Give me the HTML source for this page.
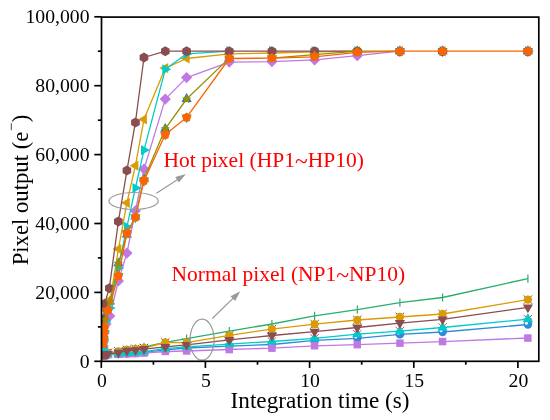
<!DOCTYPE html>
<html><head><meta charset="utf-8"><title>Pixel output vs integration time</title>
<style>
html,body{margin:0;padding:0;background:#fff;}
svg{display:block;font-family:"Liberation Serif","Times New Roman",serif;}
</style></head><body>
<svg width="550" height="420" viewBox="0 0 550 420">
<rect width="550" height="420" fill="#fff"/>
<clipPath id="c"><rect x="101.5" y="17.1" width="437.3" height="344.2"/></clipPath>
<g clip-path="url(#c)">
<polygon points="103.0,341.1 108.1,349.9 97.9,349.9" fill="#1A6FDF"/><polygon points="103.6,333.1 108.7,341.9 98.5,341.9" fill="#1A6FDF"/><polygon points="104.2,323.1 109.3,331.9 99.1,331.9" fill="#1A6FDF"/><polygon points="105.5,313.4 110.6,322.2 100.4,322.2" fill="#1A6FDF"/><polygon points="110.0,295.6 115.1,304.4 104.9,304.4" fill="#1A6FDF"/><polygon points="118.4,257.4 123.5,266.2 113.3,266.2" fill="#1A6FDF"/><polygon points="126.9,228.6 132.0,237.5 121.8,237.5" fill="#1A6FDF"/><polygon points="135.4,210.7 140.5,219.6 130.3,219.6" fill="#1A6FDF"/><polygon points="144.0,172.8 149.1,181.7 138.9,181.7" fill="#1A6FDF"/><polygon points="165.3,122.9 170.4,131.7 160.2,131.7" fill="#1A6FDF"/><polygon points="186.6,93.1 191.7,101.9 181.5,101.9" fill="#1A6FDF"/><polygon points="229.3,52.2 234.4,61.1 224.2,61.1" fill="#1A6FDF"/><polygon points="271.9,52.2 277.0,61.1 266.8,61.1" fill="#1A6FDF"/><polygon points="314.6,48.8 319.7,57.6 309.5,57.6" fill="#1A6FDF"/><polygon points="357.3,45.4 362.4,54.2 352.1,54.2" fill="#1A6FDF"/><polygon points="399.9,45.4 405.0,54.2 394.8,54.2" fill="#1A6FDF"/><polygon points="442.6,45.4 447.7,54.2 437.5,54.2" fill="#1A6FDF"/><polygon points="527.9,45.4 533.0,54.2 522.8,54.2" fill="#1A6FDF"/>
<polygon points="103.0,350.9 108.1,342.1 97.9,342.1" fill="#2BAE6C"/><polygon points="103.6,344.9 108.7,336.1 98.5,336.1" fill="#2BAE6C"/><polygon points="104.1,338.9 109.2,330.1 99.0,330.1" fill="#2BAE6C"/><polygon points="104.5,333.4 109.6,324.6 99.4,324.6" fill="#2BAE6C"/><polygon points="108.0,316.1 113.1,307.2 102.9,307.2" fill="#2BAE6C"/><polygon points="118.4,281.9 123.5,273.1 113.3,273.1" fill="#2BAE6C"/><polygon points="126.9,238.8 132.0,230.0 121.8,230.0" fill="#2BAE6C"/><polygon points="135.4,223.2 140.5,214.3 130.3,214.3" fill="#2BAE6C"/><polygon points="144.0,186.7 149.1,177.8 138.9,177.8" fill="#2BAE6C"/><polygon points="165.3,140.5 170.4,131.7 160.2,131.7" fill="#2BAE6C"/><polygon points="186.6,123.3 191.7,114.4 181.5,114.4" fill="#2BAE6C"/><polygon points="229.3,64.4 234.4,55.5 224.2,55.5" fill="#2BAE6C"/><polygon points="271.9,64.0 277.0,55.2 266.8,55.2" fill="#2BAE6C"/><polygon points="314.6,62.7 319.7,53.8 309.5,53.8" fill="#2BAE6C"/><polygon points="357.3,58.2 362.4,49.3 352.1,49.3" fill="#2BAE6C"/><polygon points="399.9,57.1 405.0,48.3 394.8,48.3" fill="#2BAE6C"/><polygon points="442.6,57.1 447.7,48.3 437.5,48.3" fill="#2BAE6C"/><polygon points="527.9,57.1 533.0,48.3 522.8,48.3" fill="#2BAE6C"/>
<polyline points="103.0,347.0 103.6,340.0 104.2,333.0 106.0,324.0 109.8,316.0 118.4,281.0 126.9,253.1 135.4,210.8 144.0,169.1 165.3,99.1 186.6,77.6 229.3,62.1 271.9,61.6 314.6,59.9 357.3,55.7 399.9,51.2" fill="none" stroke="#C079E2" stroke-width="1.3" stroke-linejoin="round"/>
<polygon points="103.0,341.4 108.6,347.0 103.0,352.6 97.4,347.0" fill="#C079E2"/><polygon points="103.6,334.4 109.2,340.0 103.6,345.6 98.0,340.0" fill="#C079E2"/><polygon points="104.2,327.4 109.8,333.0 104.2,338.6 98.6,333.0" fill="#C079E2"/><polygon points="106.0,318.4 111.6,324.0 106.0,329.6 100.4,324.0" fill="#C079E2"/><polygon points="109.8,310.4 115.4,316.0 109.8,321.6 104.2,316.0" fill="#C079E2"/><polygon points="118.4,275.4 124.0,281.0 118.4,286.6 112.8,281.0" fill="#C079E2"/><polygon points="126.9,247.5 132.5,253.1 126.9,258.7 121.3,253.1" fill="#C079E2"/><polygon points="135.4,205.2 141.0,210.8 135.4,216.4 129.8,210.8" fill="#C079E2"/><polygon points="144.0,163.5 149.6,169.1 144.0,174.7 138.4,169.1" fill="#C079E2"/><polygon points="165.3,93.5 170.9,99.1 165.3,104.7 159.7,99.1" fill="#C079E2"/><polygon points="186.6,72.0 192.2,77.6 186.6,83.2 181.0,77.6" fill="#C079E2"/><polygon points="229.3,56.5 234.9,62.1 229.3,67.7 223.7,62.1" fill="#C079E2"/><polygon points="271.9,56.0 277.5,61.6 271.9,67.2 266.3,61.6" fill="#C079E2"/><polygon points="314.6,54.3 320.2,59.9 314.6,65.5 309.0,59.9" fill="#C079E2"/><polygon points="357.3,50.1 362.9,55.7 357.3,61.3 351.7,55.7" fill="#C079E2"/><polygon points="399.9,45.6 405.5,51.2 399.9,56.9 394.3,51.2" fill="#C079E2"/><polygon points="442.6,45.6 448.2,51.2 442.6,56.9 437.0,51.2" fill="#C079E2"/><polygon points="527.9,45.6 533.5,51.2 527.9,56.9 522.3,51.2" fill="#C079E2"/>
<polyline points="102.6,349.0 103.2,337.0 104.0,323.0 105.5,310.0 110.2,299.5 118.4,249.0 126.9,202.8 135.4,165.7 144.0,119.3 165.3,68.1 186.6,58.5 229.3,53.8 271.9,53.0 314.6,51.9 357.3,51.2" fill="none" stroke="#DA9B04" stroke-width="1.3" stroke-linejoin="round"/>
<polygon points="96.7,349.0 105.5,343.9 105.5,354.1" fill="#DA9B04"/><polygon points="97.3,337.0 106.2,331.9 106.2,342.1" fill="#DA9B04"/><polygon points="98.1,323.0 107.0,317.9 107.0,328.1" fill="#DA9B04"/><polygon points="99.6,310.0 108.5,304.9 108.5,315.1" fill="#DA9B04"/><polygon points="104.3,299.5 113.2,294.4 113.2,304.6" fill="#DA9B04"/><polygon points="112.5,249.0 121.3,243.9 121.3,254.1" fill="#DA9B04"/><polygon points="121.0,202.8 129.8,197.7 129.8,207.9" fill="#DA9B04"/><polygon points="129.5,165.7 138.4,160.6 138.4,170.8" fill="#DA9B04"/><polygon points="138.1,119.3 146.9,114.2 146.9,124.4" fill="#DA9B04"/><polygon points="159.4,68.1 168.2,63.0 168.2,73.2" fill="#DA9B04"/><polygon points="180.7,58.5 189.6,53.4 189.6,63.6" fill="#DA9B04"/><polygon points="223.4,53.8 232.2,48.7 232.2,58.9" fill="#DA9B04"/><polygon points="266.0,53.0 274.9,47.9 274.9,58.1" fill="#DA9B04"/><polygon points="308.7,51.9 317.5,46.8 317.5,57.0" fill="#DA9B04"/><polygon points="351.4,51.2 360.2,46.1 360.2,56.4" fill="#DA9B04"/><polygon points="394.0,51.2 402.9,46.1 402.9,56.4" fill="#DA9B04"/><polygon points="436.7,51.2 445.5,46.1 445.5,56.4" fill="#DA9B04"/><polygon points="522.0,51.2 530.8,46.1 530.8,56.4" fill="#DA9B04"/>
<polyline points="103.0,346.0 103.6,339.0 104.2,331.0 105.6,321.0 109.8,308.0 118.4,267.9 126.9,226.9 135.4,188.0 144.0,150.1 165.3,69.3 186.6,53.8 229.3,51.2" fill="none" stroke="#00CBCC" stroke-width="1.3" stroke-linejoin="round"/>
<polygon points="108.9,346.0 100.0,340.9 100.0,351.1" fill="#00CBCC"/><polygon points="109.5,339.0 100.6,333.9 100.6,344.1" fill="#00CBCC"/><polygon points="110.1,331.0 101.2,325.9 101.2,336.1" fill="#00CBCC"/><polygon points="111.5,321.0 102.6,315.9 102.6,326.1" fill="#00CBCC"/><polygon points="115.7,308.0 106.8,302.9 106.8,313.1" fill="#00CBCC"/><polygon points="124.3,267.9 115.4,262.8 115.4,273.1" fill="#00CBCC"/><polygon points="132.8,226.9 123.9,221.8 123.9,232.1" fill="#00CBCC"/><polygon points="141.3,188.0 132.5,182.9 132.5,193.1" fill="#00CBCC"/><polygon points="149.9,150.1 141.0,145.0 141.0,155.2" fill="#00CBCC"/><polygon points="171.2,69.3 162.3,64.2 162.3,74.4" fill="#00CBCC"/><polygon points="192.5,53.8 183.7,48.7 183.7,58.9" fill="#00CBCC"/><polygon points="235.2,51.2 226.3,46.1 226.3,56.4" fill="#00CBCC"/><polygon points="277.8,51.2 269.0,46.1 269.0,56.4" fill="#00CBCC"/><polygon points="320.5,51.2 311.6,46.1 311.6,56.4" fill="#00CBCC"/><polygon points="363.2,51.2 354.3,46.1 354.3,56.4" fill="#00CBCC"/><polygon points="405.8,51.2 397.0,46.1 397.0,56.4" fill="#00CBCC"/><polygon points="448.5,51.2 439.6,46.1 439.6,56.4" fill="#00CBCC"/><polygon points="533.8,51.2 524.9,46.1 524.9,56.4" fill="#00CBCC"/>
<polyline points="102.4,349.0 102.9,335.0 103.6,319.0 104.6,303.8 109.3,288.3 118.4,221.4 126.9,170.6 135.4,122.4 144.0,57.5 165.3,51.2 186.6,51.2 229.3,51.2 271.9,51.2 314.6,51.2 357.3,51.2" fill="none" stroke="#8A4E50" stroke-width="1.3" stroke-linejoin="round"/>
<polygon points="106.7,351.5 102.4,354.0 98.1,351.5 98.1,346.5 102.4,344.0 106.7,346.5" fill="#8A4E50"/><polygon points="107.2,337.5 102.9,340.0 98.6,337.5 98.6,332.5 102.9,330.0 107.2,332.5" fill="#8A4E50"/><polygon points="107.9,321.5 103.6,324.0 99.3,321.5 99.3,316.5 103.6,314.0 107.9,316.5" fill="#8A4E50"/><polygon points="108.9,306.3 104.6,308.8 100.3,306.3 100.3,301.3 104.6,298.8 108.9,301.3" fill="#8A4E50"/><polygon points="113.6,290.8 109.3,293.3 105.0,290.8 105.0,285.8 109.3,283.3 113.6,285.8" fill="#8A4E50"/><polygon points="122.7,223.9 118.4,226.4 114.0,223.9 114.0,218.9 118.4,216.4 122.7,218.9" fill="#8A4E50"/><polygon points="131.2,173.1 126.9,175.6 122.6,173.1 122.6,168.1 126.9,165.6 131.2,168.1" fill="#8A4E50"/><polygon points="139.8,124.9 135.4,127.4 131.1,124.9 131.1,119.9 135.4,117.4 139.8,119.9" fill="#8A4E50"/><polygon points="148.3,60.0 144.0,62.5 139.6,60.0 139.6,55.0 144.0,52.5 148.3,55.0" fill="#8A4E50"/><polygon points="169.6,53.8 165.3,56.2 161.0,53.8 161.0,48.8 165.3,46.2 169.6,48.8" fill="#8A4E50"/><polygon points="190.9,53.8 186.6,56.2 182.3,53.8 182.3,48.8 186.6,46.2 190.9,48.8" fill="#8A4E50"/><polygon points="233.6,53.8 229.3,56.2 224.9,53.8 224.9,48.8 229.3,46.2 233.6,48.8" fill="#8A4E50"/><polygon points="276.3,53.8 271.9,56.2 267.6,53.8 267.6,48.8 271.9,46.2 276.3,48.8" fill="#8A4E50"/><polygon points="318.9,53.8 314.6,56.2 310.3,53.8 310.3,48.8 314.6,46.2 318.9,48.8" fill="#8A4E50"/><polygon points="361.6,53.8 357.3,56.2 352.9,53.8 352.9,48.8 357.3,46.2 361.6,48.8" fill="#8A4E50"/><polygon points="404.2,53.8 399.9,56.2 395.6,53.8 395.6,48.8 399.9,46.2 404.2,48.8" fill="#8A4E50"/><polygon points="446.9,53.8 442.6,56.2 438.2,53.8 438.2,48.8 442.6,46.2 446.9,48.8" fill="#8A4E50"/><polygon points="532.2,53.8 527.9,56.2 523.6,53.8 523.6,48.8 527.9,46.2 532.2,48.8" fill="#8A4E50"/>
<polyline points="103.0,347.0 103.6,339.0 104.2,329.0 105.5,319.3 110.0,301.5 118.4,263.3 126.9,234.5 135.4,216.6 144.0,178.7 165.3,128.8 186.6,99.0 229.3,58.1" fill="none" stroke="#929204" stroke-width="1.3" stroke-linejoin="round"/>
<polyline points="271.9,58.1 314.6,54.7 357.3,51.2 399.9,51.2" fill="none" stroke="#929204" stroke-width="1.3" stroke-linejoin="round"/>
<polygon points="103.0,342.4 104.5,345.3 107.7,345.8 105.4,348.1 105.9,351.3 103.0,349.8 100.1,351.3 100.6,348.1 98.3,345.8 101.5,345.3" fill="#929204"/><polygon points="103.6,334.4 105.1,337.3 108.3,337.8 106.0,340.1 106.5,343.3 103.6,341.8 100.7,343.3 101.2,340.1 98.9,337.8 102.1,337.3" fill="#929204"/><polygon points="104.2,324.4 105.7,327.3 108.9,327.8 106.6,330.1 107.1,333.3 104.2,331.8 101.3,333.3 101.8,330.1 99.5,327.8 102.7,327.3" fill="#929204"/><polygon points="105.5,314.7 107.0,317.6 110.2,318.1 107.9,320.4 108.4,323.6 105.5,322.1 102.6,323.6 103.1,320.4 100.8,318.1 104.0,317.6" fill="#929204"/><polygon points="110.0,296.9 111.5,299.8 114.7,300.3 112.4,302.6 112.9,305.8 110.0,304.3 107.1,305.8 107.6,302.6 105.3,300.3 108.5,299.8" fill="#929204"/><polygon points="118.4,258.7 119.8,261.6 123.0,262.1 120.7,264.4 121.2,267.6 118.4,266.1 115.5,267.6 116.0,264.4 113.7,262.1 116.9,261.6" fill="#929204"/><polygon points="126.9,229.9 128.4,232.8 131.6,233.3 129.3,235.6 129.8,238.8 126.9,237.3 124.0,238.8 124.5,235.6 122.2,233.3 125.4,232.8" fill="#929204"/><polygon points="135.4,212.0 136.9,214.9 140.1,215.4 137.8,217.7 138.3,220.9 135.4,219.4 132.5,220.9 133.1,217.7 130.8,215.4 134.0,214.9" fill="#929204"/><polygon points="144.0,174.1 145.4,177.0 148.6,177.5 146.3,179.8 146.8,183.0 144.0,181.5 141.1,183.0 141.6,179.8 139.3,177.5 142.5,177.0" fill="#929204"/><polygon points="165.3,124.2 166.8,127.0 169.9,127.5 167.7,129.8 168.2,133.0 165.3,131.6 162.4,133.0 162.9,129.8 160.6,127.5 163.8,127.0" fill="#929204"/><polygon points="186.6,94.4 188.1,97.2 191.3,97.7 189.0,100.0 189.5,103.2 186.6,101.8 183.7,103.2 184.2,100.0 182.0,97.7 185.2,97.2" fill="#929204"/><polygon points="229.3,53.5 230.7,56.4 233.9,56.9 231.7,59.2 232.2,62.4 229.3,60.9 226.4,62.4 226.9,59.2 224.6,56.9 227.8,56.4" fill="#929204"/><polygon points="271.9,53.5 273.4,56.4 276.6,56.9 274.3,59.2 274.8,62.4 271.9,60.9 269.1,62.4 269.6,59.2 267.3,56.9 270.5,56.4" fill="#929204"/><polygon points="314.6,50.1 316.1,53.0 319.3,53.5 317.0,55.8 317.5,59.0 314.6,57.5 311.7,59.0 312.2,55.8 309.9,53.5 313.1,53.0" fill="#929204"/><polygon points="357.3,46.6 358.7,49.5 361.9,50.0 359.6,52.3 360.1,55.5 357.3,54.0 354.4,55.5 354.9,52.3 352.6,50.0 355.8,49.5" fill="#929204"/><polygon points="399.9,46.6 401.4,49.5 404.6,50.0 402.3,52.3 402.8,55.5 399.9,54.0 397.0,55.5 397.5,52.3 395.3,50.0 398.4,49.5" fill="#929204"/><polygon points="442.6,46.6 444.0,49.5 447.2,50.0 445.0,52.3 445.5,55.5 442.6,54.0 439.7,55.5 440.2,52.3 437.9,50.0 441.1,49.5" fill="#929204"/><polygon points="527.9,46.6 529.4,49.5 532.6,50.0 530.3,52.3 530.8,55.5 527.9,54.0 525.0,55.5 525.5,52.3 523.2,50.0 526.4,49.5" fill="#929204"/>
<polyline points="103.0,345.0 103.6,339.0 104.1,333.0 104.5,327.5 108.0,310.2 118.4,276.0 126.9,232.9 135.4,217.3 144.0,180.8 165.3,134.6 186.6,117.4 229.3,58.5 271.9,58.1 314.6,56.8 357.3,52.3 399.9,51.2 442.6,51.2 527.9,51.2" fill="none" stroke="#FB6501" stroke-width="1.3" stroke-linejoin="round"/>
<polygon points="103.0,340.0 107.8,343.5 105.9,349.0 100.1,349.0 98.2,343.5" fill="#FB6501"/><polygon points="103.6,334.0 108.4,337.5 106.5,343.0 100.7,343.0 98.8,337.5" fill="#FB6501"/><polygon points="104.1,328.0 108.9,331.5 107.0,337.0 101.2,337.0 99.3,331.5" fill="#FB6501"/><polygon points="104.5,322.5 109.3,326.0 107.4,331.5 101.6,331.5 99.7,326.0" fill="#FB6501"/><polygon points="108.0,305.2 112.8,308.7 110.9,314.2 105.1,314.2 103.2,308.7" fill="#FB6501"/><polygon points="118.4,271.0 123.1,274.5 121.3,280.1 115.4,280.1 113.6,274.5" fill="#FB6501"/><polygon points="126.9,227.9 131.7,231.4 129.8,236.9 124.0,236.9 122.1,231.4" fill="#FB6501"/><polygon points="135.4,212.3 140.2,215.8 138.4,221.3 132.5,221.3 130.7,215.8" fill="#FB6501"/><polygon points="144.0,175.8 148.7,179.2 146.9,184.8 141.0,184.8 139.2,179.2" fill="#FB6501"/><polygon points="165.3,129.6 170.0,133.1 168.2,138.7 162.4,138.7 160.5,133.1" fill="#FB6501"/><polygon points="186.6,112.4 191.4,115.8 189.6,121.4 183.7,121.4 181.9,115.8" fill="#FB6501"/><polygon points="229.3,53.5 234.0,56.9 232.2,62.5 226.3,62.5 224.5,56.9" fill="#FB6501"/><polygon points="271.9,53.1 276.7,56.6 274.9,62.2 269.0,62.2 267.2,56.6" fill="#FB6501"/><polygon points="314.6,51.8 319.4,55.2 317.5,60.8 311.7,60.8 309.8,55.2" fill="#FB6501"/><polygon points="357.3,47.3 362.0,50.7 360.2,56.3 354.3,56.3 352.5,50.7" fill="#FB6501"/><polygon points="399.9,46.2 404.7,49.7 402.9,55.3 397.0,55.3 395.2,49.7" fill="#FB6501"/><polygon points="442.6,46.2 447.3,49.7 445.5,55.3 439.6,55.3 437.8,49.7" fill="#FB6501"/><polygon points="527.9,46.2 532.7,49.7 530.8,55.3 525.0,55.3 523.1,49.7" fill="#FB6501"/>
<path d="M98.2 349.3L106.6 357.7M98.2 357.7L106.6 349.3" stroke="#515151" stroke-width="1" fill="none"/><path d="M99.2 349.2L107.6 357.6M99.2 357.6L107.6 349.2" stroke="#515151" stroke-width="1" fill="none"/><path d="M100.3 349.2L108.7 357.6M100.3 357.6L108.7 349.2" stroke="#515151" stroke-width="1" fill="none"/><path d="M101.4 349.1L109.8 357.5M101.4 357.5L109.8 349.1" stroke="#515151" stroke-width="1" fill="none"/><path d="M102.4 349.0L110.8 357.4M102.4 357.4L110.8 349.0" stroke="#515151" stroke-width="1" fill="none"/><path d="M103.5 348.8L111.9 357.2M103.5 357.2L111.9 348.8" stroke="#515151" stroke-width="1" fill="none"/><path d="M114.2 347.1L122.6 355.5M114.2 355.5L122.6 347.1" stroke="#515151" stroke-width="1" fill="none"/><path d="M122.7 345.5L131.1 353.9M122.7 353.9L131.1 345.5" stroke="#515151" stroke-width="1" fill="none"/><path d="M131.2 344.7L139.6 353.1M131.2 353.1L139.6 344.7" stroke="#515151" stroke-width="1" fill="none"/><path d="M139.8 343.8L148.2 352.2M139.8 352.2L148.2 343.8" stroke="#515151" stroke-width="1" fill="none"/><path d="M161.1 338.3L169.5 346.7M161.1 346.7L169.5 338.3" stroke="#515151" stroke-width="1" fill="none"/><path d="M182.4 338.5L190.8 346.9M182.4 346.9L190.8 338.5" stroke="#515151" stroke-width="1" fill="none"/><path d="M225.1 331.1L233.5 339.5M225.1 339.5L233.5 331.1" stroke="#515151" stroke-width="1" fill="none"/><path d="M267.7 324.9L276.1 333.3M267.7 333.3L276.1 324.9" stroke="#515151" stroke-width="1" fill="none"/><path d="M310.4 320.0L318.8 328.4M310.4 328.4L318.8 320.0" stroke="#515151" stroke-width="1" fill="none"/><path d="M353.1 315.8L361.5 324.2M353.1 324.2L361.5 315.8" stroke="#515151" stroke-width="1" fill="none"/><path d="M395.7 312.8L404.1 321.2M395.7 321.2L404.1 312.8" stroke="#515151" stroke-width="1" fill="none"/><path d="M438.4 309.8L446.8 318.2M438.4 318.2L446.8 309.8" stroke="#515151" stroke-width="1" fill="none"/><path d="M523.7 295.4L532.1 303.8M523.7 303.8L532.1 295.4" stroke="#515151" stroke-width="1" fill="none"/>
<path d="M98.2 349.3L106.6 357.7M98.2 357.7L106.6 349.3M98.0 353.5L106.8 353.5M102.4 349.1L102.4 357.9" stroke="#F14040" stroke-width="1" fill="none"/><path d="M99.2 349.3L107.6 357.7M99.2 357.7L107.6 349.3M99.0 353.5L107.8 353.5M103.4 349.1L103.4 357.9" stroke="#F14040" stroke-width="1" fill="none"/><path d="M100.3 349.3L108.7 357.7M100.3 357.7L108.7 349.3M100.1 353.5L108.9 353.5M104.5 349.1L104.5 357.9" stroke="#F14040" stroke-width="1" fill="none"/><path d="M101.4 349.3L109.8 357.7M101.4 357.7L109.8 349.3M101.2 353.5L110.0 353.5M105.6 349.1L105.6 357.9" stroke="#F14040" stroke-width="1" fill="none"/><path d="M102.4 349.3L110.8 357.7M102.4 357.7L110.8 349.3M102.2 353.5L111.0 353.5M106.6 349.1L106.6 357.9" stroke="#F14040" stroke-width="1" fill="none"/><path d="M103.5 349.3L111.9 357.7M103.5 357.7L111.9 349.3M103.3 353.5L112.1 353.5M107.7 349.1L107.7 357.9" stroke="#F14040" stroke-width="1" fill="none"/><path d="M114.2 349.5L122.6 357.9M114.2 357.9L122.6 349.5M114.0 353.7L122.8 353.7M118.4 349.3L118.4 358.1" stroke="#F14040" stroke-width="1" fill="none"/><path d="M122.7 348.8L131.1 357.2M122.7 357.2L131.1 348.8M122.5 353.0L131.3 353.0M126.9 348.6L126.9 357.4" stroke="#F14040" stroke-width="1" fill="none"/><path d="M131.2 348.3L139.6 356.7M131.2 356.7L139.6 348.3M131.0 352.5L139.8 352.5M135.4 348.1L135.4 356.9" stroke="#F14040" stroke-width="1" fill="none"/><path d="M139.8 347.5L148.2 355.9M139.8 355.9L148.2 347.5M139.6 351.7L148.4 351.7M144.0 347.3L144.0 356.1" stroke="#F14040" stroke-width="1" fill="none"/><path d="M161.1 344.4L169.5 352.8M161.1 352.8L169.5 344.4M160.9 348.6L169.7 348.6M165.3 344.2L165.3 353.0" stroke="#F14040" stroke-width="1" fill="none"/><path d="M182.4 342.6L190.8 351.0M182.4 351.0L190.8 342.6M182.2 346.8L191.0 346.8M186.6 342.4L186.6 351.2" stroke="#F14040" stroke-width="1" fill="none"/><path d="M225.1 339.9L233.5 348.3M225.1 348.3L233.5 339.9M224.9 344.1L233.7 344.1M229.3 339.7L229.3 348.5" stroke="#F14040" stroke-width="1" fill="none"/><path d="M267.7 337.3L276.1 345.7M267.7 345.7L276.1 337.3M267.5 341.5L276.3 341.5M271.9 337.1L271.9 345.9" stroke="#F14040" stroke-width="1" fill="none"/><path d="M310.4 334.1L318.8 342.5M310.4 342.5L318.8 334.1M310.2 338.3L319.0 338.3M314.6 333.9L314.6 342.7" stroke="#F14040" stroke-width="1" fill="none"/><path d="M353.1 330.0L361.5 338.4M353.1 338.4L361.5 330.0M352.9 334.2L361.7 334.2M357.3 329.8L357.3 338.6" stroke="#F14040" stroke-width="1" fill="none"/><path d="M395.7 326.9L404.1 335.3M395.7 335.3L404.1 326.9M395.5 331.1L404.3 331.1M399.9 326.7L399.9 335.5" stroke="#F14040" stroke-width="1" fill="none"/><path d="M438.4 323.3L446.8 331.7M438.4 331.7L446.8 323.3M438.2 327.5L447.0 327.5M442.6 323.1L442.6 331.9" stroke="#F14040" stroke-width="1" fill="none"/><path d="M523.7 314.9L532.1 323.3M523.7 323.3L532.1 314.9M523.5 319.1L532.3 319.1M527.9 314.7L527.9 323.5" stroke="#F14040" stroke-width="1" fill="none"/>
<polyline points="102.4,354.4 103.4,354.4 104.5,354.4 105.6,354.4 106.6,354.3 107.7,354.2 118.4,354.1 126.9,353.5 135.4,353.0 144.0,352.3 165.3,349.9 186.6,348.0 229.3,346.1 271.9,344.5 314.6,340.3 357.3,338.3 399.9,334.4 442.6,332.0 527.9,324.5" fill="none" stroke="#2E8CD6" stroke-width="1.3" stroke-linejoin="round"/>
<circle cx="102.4" cy="354.4" r="4.2" fill="#2E8CD6"/><circle cx="100.9" cy="353.1" r="1.6" fill="#e4f0fa"/><circle cx="103.4" cy="354.4" r="4.2" fill="#2E8CD6"/><circle cx="101.9" cy="353.1" r="1.6" fill="#e4f0fa"/><circle cx="104.5" cy="354.4" r="4.2" fill="#2E8CD6"/><circle cx="103.0" cy="353.1" r="1.6" fill="#e4f0fa"/><circle cx="105.6" cy="354.4" r="4.2" fill="#2E8CD6"/><circle cx="104.1" cy="353.1" r="1.6" fill="#e4f0fa"/><circle cx="106.6" cy="354.3" r="4.2" fill="#2E8CD6"/><circle cx="105.1" cy="353.0" r="1.6" fill="#e4f0fa"/><circle cx="107.7" cy="354.2" r="4.2" fill="#2E8CD6"/><circle cx="106.2" cy="352.9" r="1.6" fill="#e4f0fa"/><circle cx="118.4" cy="354.1" r="4.2" fill="#2E8CD6"/><circle cx="116.9" cy="352.8" r="1.6" fill="#e4f0fa"/><circle cx="126.9" cy="353.5" r="4.2" fill="#2E8CD6"/><circle cx="125.4" cy="352.2" r="1.6" fill="#e4f0fa"/><circle cx="135.4" cy="353.0" r="4.2" fill="#2E8CD6"/><circle cx="133.9" cy="351.7" r="1.6" fill="#e4f0fa"/><circle cx="144.0" cy="352.3" r="4.2" fill="#2E8CD6"/><circle cx="142.5" cy="351.0" r="1.6" fill="#e4f0fa"/><circle cx="165.3" cy="349.9" r="4.2" fill="#2E8CD6"/><circle cx="163.8" cy="348.6" r="1.6" fill="#e4f0fa"/><circle cx="186.6" cy="348.0" r="4.2" fill="#2E8CD6"/><circle cx="185.1" cy="346.7" r="1.6" fill="#e4f0fa"/><circle cx="229.3" cy="346.1" r="4.2" fill="#2E8CD6"/><circle cx="227.8" cy="344.8" r="1.6" fill="#e4f0fa"/><circle cx="271.9" cy="344.5" r="4.2" fill="#2E8CD6"/><circle cx="270.4" cy="343.2" r="1.6" fill="#e4f0fa"/><circle cx="314.6" cy="340.3" r="4.2" fill="#2E8CD6"/><circle cx="313.1" cy="339.0" r="1.6" fill="#e4f0fa"/><circle cx="357.3" cy="338.3" r="4.2" fill="#2E8CD6"/><circle cx="355.8" cy="337.0" r="1.6" fill="#e4f0fa"/><circle cx="399.9" cy="334.4" r="4.2" fill="#2E8CD6"/><circle cx="398.4" cy="333.1" r="1.6" fill="#e4f0fa"/><circle cx="442.6" cy="332.0" r="4.2" fill="#2E8CD6"/><circle cx="441.1" cy="330.7" r="1.6" fill="#e4f0fa"/><circle cx="527.9" cy="324.5" r="4.2" fill="#2E8CD6"/><circle cx="526.4" cy="323.2" r="1.6" fill="#e4f0fa"/>
<polyline points="102.4,354.4 103.4,354.3 104.5,354.2 105.6,354.1 106.6,353.9 107.7,353.7 118.4,352.0 126.9,350.3 135.4,348.6 144.0,346.8 165.3,342.3 186.6,338.6 229.3,331.2 271.9,324.0 314.6,315.8 357.3,309.7 399.9,302.6 442.6,297.5 527.9,278.6" fill="none" stroke="#2BAE6C" stroke-width="1.3" stroke-linejoin="round"/>
<line x1="102.4" y1="350.3" x2="102.4" y2="358.5" stroke="#2BAE6C" stroke-width="1.2"/><line x1="103.4" y1="350.2" x2="103.4" y2="358.4" stroke="#2BAE6C" stroke-width="1.2"/><line x1="104.5" y1="350.1" x2="104.5" y2="358.3" stroke="#2BAE6C" stroke-width="1.2"/><line x1="105.6" y1="350.0" x2="105.6" y2="358.2" stroke="#2BAE6C" stroke-width="1.2"/><line x1="106.6" y1="349.8" x2="106.6" y2="358.0" stroke="#2BAE6C" stroke-width="1.2"/><line x1="107.7" y1="349.6" x2="107.7" y2="357.8" stroke="#2BAE6C" stroke-width="1.2"/><line x1="118.4" y1="347.9" x2="118.4" y2="356.1" stroke="#2BAE6C" stroke-width="1.2"/><line x1="126.9" y1="346.2" x2="126.9" y2="354.4" stroke="#2BAE6C" stroke-width="1.2"/><line x1="135.4" y1="344.5" x2="135.4" y2="352.7" stroke="#2BAE6C" stroke-width="1.2"/><line x1="144.0" y1="342.7" x2="144.0" y2="350.9" stroke="#2BAE6C" stroke-width="1.2"/><line x1="165.3" y1="338.2" x2="165.3" y2="346.4" stroke="#2BAE6C" stroke-width="1.2"/><line x1="186.6" y1="334.5" x2="186.6" y2="342.7" stroke="#2BAE6C" stroke-width="1.2"/><line x1="229.3" y1="327.1" x2="229.3" y2="335.3" stroke="#2BAE6C" stroke-width="1.2"/><line x1="271.9" y1="319.9" x2="271.9" y2="328.1" stroke="#2BAE6C" stroke-width="1.2"/><line x1="314.6" y1="311.7" x2="314.6" y2="319.9" stroke="#2BAE6C" stroke-width="1.2"/><line x1="357.3" y1="305.6" x2="357.3" y2="313.8" stroke="#2BAE6C" stroke-width="1.2"/><line x1="399.9" y1="298.5" x2="399.9" y2="306.7" stroke="#2BAE6C" stroke-width="1.2"/><line x1="442.6" y1="293.4" x2="442.6" y2="301.6" stroke="#2BAE6C" stroke-width="1.2"/><line x1="527.9" y1="274.5" x2="527.9" y2="282.7" stroke="#2BAE6C" stroke-width="1.2"/>
<polyline points="102.4,354.8 103.4,354.8 104.5,354.8 105.6,354.8 106.6,354.7 107.7,354.6 118.4,354.2 126.9,353.9 135.4,353.5 144.0,353.0 165.3,351.5 186.6,351.0 229.3,349.5 271.9,348.2 314.6,345.8 357.3,344.7 399.9,343.1 442.6,341.6 527.9,338.0" fill="none" stroke="#C079E2" stroke-width="1.3" stroke-linejoin="round"/>
<rect x="98.6" y="351.0" width="7.5" height="7.5" fill="#C079E2"/><rect x="99.7" y="351.0" width="7.5" height="7.5" fill="#C079E2"/><rect x="100.7" y="351.0" width="7.5" height="7.5" fill="#C079E2"/><rect x="101.8" y="351.0" width="7.5" height="7.5" fill="#C079E2"/><rect x="102.9" y="350.9" width="7.5" height="7.5" fill="#C079E2"/><rect x="103.9" y="350.8" width="7.5" height="7.5" fill="#C079E2"/><rect x="114.6" y="350.5" width="7.5" height="7.5" fill="#C079E2"/><rect x="123.1" y="350.1" width="7.5" height="7.5" fill="#C079E2"/><rect x="131.7" y="349.8" width="7.5" height="7.5" fill="#C079E2"/><rect x="140.2" y="349.3" width="7.5" height="7.5" fill="#C079E2"/><rect x="161.5" y="347.7" width="7.5" height="7.5" fill="#C079E2"/><rect x="182.9" y="347.2" width="7.5" height="7.5" fill="#C079E2"/><rect x="225.5" y="345.8" width="7.5" height="7.5" fill="#C079E2"/><rect x="268.2" y="344.4" width="7.5" height="7.5" fill="#C079E2"/><rect x="310.8" y="342.0" width="7.5" height="7.5" fill="#C079E2"/><rect x="353.5" y="340.9" width="7.5" height="7.5" fill="#C079E2"/><rect x="396.2" y="339.4" width="7.5" height="7.5" fill="#C079E2"/><rect x="438.8" y="337.8" width="7.5" height="7.5" fill="#C079E2"/><rect x="524.1" y="334.3" width="7.5" height="7.5" fill="#C079E2"/>
<polyline points="102.4,353.5 103.4,353.4 104.5,353.4 105.6,353.3 106.6,353.2 107.7,353.0 118.4,351.3 126.9,349.7 135.4,348.9 144.0,348.0 165.3,342.5 186.6,342.7 229.3,335.3 271.9,329.1 314.6,324.2 357.3,320.0 399.9,317.0 442.6,314.0 527.9,299.6" fill="none" stroke="#DA9B04" stroke-width="1.3" stroke-linejoin="round"/>
<circle cx="102.4" cy="353.5" r="4.15" fill="#DA9B04"/><circle cx="103.4" cy="353.4" r="4.15" fill="#DA9B04"/><circle cx="104.5" cy="353.4" r="4.15" fill="#DA9B04"/><circle cx="105.6" cy="353.3" r="4.15" fill="#DA9B04"/><circle cx="106.6" cy="353.2" r="4.15" fill="#DA9B04"/><circle cx="107.7" cy="353.0" r="4.15" fill="#DA9B04"/><circle cx="118.4" cy="351.3" r="4.15" fill="#DA9B04"/><circle cx="126.9" cy="349.7" r="4.15" fill="#DA9B04"/><circle cx="135.4" cy="348.9" r="4.15" fill="#DA9B04"/><circle cx="144.0" cy="348.0" r="4.15" fill="#DA9B04"/><circle cx="165.3" cy="342.5" r="4.15" fill="#DA9B04"/><circle cx="186.6" cy="342.7" r="4.15" fill="#DA9B04"/><circle cx="229.3" cy="335.3" r="4.15" fill="#DA9B04"/><circle cx="271.9" cy="329.1" r="4.15" fill="#DA9B04"/><circle cx="314.6" cy="324.2" r="4.15" fill="#DA9B04"/><circle cx="357.3" cy="320.0" r="4.15" fill="#DA9B04"/><circle cx="399.9" cy="317.0" r="4.15" fill="#DA9B04"/><circle cx="442.6" cy="314.0" r="4.15" fill="#DA9B04"/><circle cx="527.9" cy="299.6" r="4.15" fill="#DA9B04"/>
<polyline points="102.4,353.5 103.4,353.5 104.5,353.5 105.6,353.5 106.6,353.5 107.7,353.5 118.4,353.7 126.9,353.0 135.4,352.5 144.0,351.7 165.3,348.6 186.6,346.8 229.3,344.1 271.9,341.5 314.6,338.3 357.3,334.2 399.9,331.1 442.6,327.5 527.9,319.1" fill="none" stroke="#00CBCC" stroke-width="1.3" stroke-linejoin="round"/>
<polygon points="102.4,347.6 107.5,356.5 97.3,356.5" fill="#00CBCC"/><polygon points="103.4,347.6 108.5,356.5 98.3,356.5" fill="#00CBCC"/><polygon points="104.5,347.6 109.6,356.5 99.4,356.5" fill="#00CBCC"/><polygon points="105.6,347.6 110.7,356.5 100.5,356.5" fill="#00CBCC"/><polygon points="106.6,347.6 111.7,356.5 101.5,356.5" fill="#00CBCC"/><polygon points="107.7,347.6 112.8,356.5 102.6,356.5" fill="#00CBCC"/><polygon points="118.4,347.8 123.5,356.7 113.3,356.7" fill="#00CBCC"/><polygon points="126.9,347.1 132.0,356.0 121.8,356.0" fill="#00CBCC"/><polygon points="135.4,346.6 140.5,355.5 130.3,355.5" fill="#00CBCC"/><polygon points="144.0,345.8 149.1,354.6 138.9,354.6" fill="#00CBCC"/><polygon points="165.3,342.7 170.4,351.5 160.2,351.5" fill="#00CBCC"/><polygon points="186.6,340.9 191.7,349.8 181.5,349.8" fill="#00CBCC"/><polygon points="229.3,338.2 234.4,347.1 224.2,347.1" fill="#00CBCC"/><polygon points="271.9,335.6 277.0,344.4 266.8,344.4" fill="#00CBCC"/><polygon points="314.6,332.4 319.7,341.3 309.5,341.3" fill="#00CBCC"/><polygon points="357.3,328.3 362.4,337.1 352.1,337.1" fill="#00CBCC"/><polygon points="399.9,325.2 405.0,334.0 394.8,334.0" fill="#00CBCC"/><polygon points="442.6,321.6 447.7,330.5 437.5,330.5" fill="#00CBCC"/><polygon points="527.9,313.2 533.0,322.0 522.8,322.0" fill="#00CBCC"/>
<polyline points="102.4,354.4 103.4,354.4 104.5,354.3 105.6,354.3 106.6,354.2 107.7,354.1 118.4,352.7 126.9,350.8 135.4,350.1 144.0,349.1 165.3,346.8 186.6,344.9 229.3,339.9 271.9,335.5 314.6,331.7 357.3,327.5 399.9,323.1 442.6,319.4 527.9,307.4" fill="none" stroke="#8A4E50" stroke-width="1.3" stroke-linejoin="round"/>
<polygon points="102.4,360.3 107.5,351.5 97.3,351.5" fill="#8A4E50"/><polygon points="103.4,360.3 108.5,351.5 98.3,351.5" fill="#8A4E50"/><polygon points="104.5,360.2 109.6,351.4 99.4,351.4" fill="#8A4E50"/><polygon points="105.6,360.2 110.7,351.3 100.5,351.3" fill="#8A4E50"/><polygon points="106.6,360.1 111.7,351.3 101.5,351.3" fill="#8A4E50"/><polygon points="107.7,360.0 112.8,351.1 102.6,351.1" fill="#8A4E50"/><polygon points="118.4,358.6 123.5,349.7 113.3,349.7" fill="#8A4E50"/><polygon points="126.9,356.7 132.0,347.8 121.8,347.8" fill="#8A4E50"/><polygon points="135.4,356.0 140.5,347.2 130.3,347.2" fill="#8A4E50"/><polygon points="144.0,355.0 149.1,346.1 138.9,346.1" fill="#8A4E50"/><polygon points="165.3,352.7 170.4,343.9 160.2,343.9" fill="#8A4E50"/><polygon points="186.6,350.8 191.7,342.0 181.5,342.0" fill="#8A4E50"/><polygon points="229.3,345.8 234.4,336.9 224.2,336.9" fill="#8A4E50"/><polygon points="271.9,341.4 277.0,332.5 266.8,332.5" fill="#8A4E50"/><polygon points="314.6,337.6 319.7,328.7 309.5,328.7" fill="#8A4E50"/><polygon points="357.3,333.4 362.4,324.6 352.1,324.6" fill="#8A4E50"/><polygon points="399.9,329.0 405.0,320.1 394.8,320.1" fill="#8A4E50"/><polygon points="442.6,325.3 447.7,316.5 437.5,316.5" fill="#8A4E50"/><polygon points="527.9,313.3 533.0,304.5 522.8,304.5" fill="#8A4E50"/>
</g>
<g stroke="#999999" stroke-width="1.2" fill="none"><ellipse cx="133.6" cy="201" rx="24.6" ry="8.5"/><ellipse cx="202.1" cy="339.7" rx="12" ry="20.5"/><line x1="156.4" y1="193.3" x2="180" y2="178"/><line x1="212.3" y1="318.5" x2="235" y2="296.4"/></g><polygon points="185.9,174.1 178.9,182.6 175.3,177.1" fill="#999999"/><polygon points="240.3,291.2 235.1,300.9 230.5,296.2" fill="#999999"/>
<rect x="101.5" y="17.1" width="437.3" height="344.2" fill="none" stroke="#000" stroke-width="1.7"/>
<g stroke="#000" stroke-width="1.7"><line x1="101.3" y1="361.3" x2="101.3" y2="367.9"/><line x1="153.4" y1="361.3" x2="153.4" y2="364.7"/><line x1="205.4" y1="361.3" x2="205.4" y2="367.9"/><line x1="257.5" y1="361.3" x2="257.5" y2="364.7"/><line x1="309.6" y1="361.3" x2="309.6" y2="367.9"/><line x1="361.7" y1="361.3" x2="361.7" y2="364.7"/><line x1="413.8" y1="361.3" x2="413.8" y2="367.9"/><line x1="465.8" y1="361.3" x2="465.8" y2="364.7"/><line x1="517.9" y1="361.3" x2="517.9" y2="367.9"/><line x1="101.5" y1="361.3" x2="94.3" y2="361.3"/><line x1="101.5" y1="326.9" x2="97.9" y2="326.9"/><line x1="101.5" y1="292.4" x2="94.3" y2="292.4"/><line x1="101.5" y1="257.9" x2="97.9" y2="257.9"/><line x1="101.5" y1="223.5" x2="94.3" y2="223.5"/><line x1="101.5" y1="189.1" x2="97.9" y2="189.1"/><line x1="101.5" y1="154.6" x2="94.3" y2="154.6"/><line x1="101.5" y1="120.2" x2="97.9" y2="120.2"/><line x1="101.5" y1="85.7" x2="94.3" y2="85.7"/><line x1="101.5" y1="51.2" x2="97.9" y2="51.2"/><line x1="101.5" y1="16.8" x2="94.3" y2="16.8"/></g>
<g font-size="19.7" fill="#000"><text x="101.8" y="387.4" text-anchor="middle">0</text><text x="205.9" y="387.4" text-anchor="middle">5</text><text x="310.1" y="387.4" text-anchor="middle">10</text><text x="414.2" y="387.4" text-anchor="middle">15</text><text x="518.4" y="387.4" text-anchor="middle">20</text><text x="89.5" y="367.7" text-anchor="end">0</text><text x="89.5" y="298.8" text-anchor="end">20,000</text><text x="89.5" y="229.9" text-anchor="end">40,000</text><text x="89.5" y="161.0" text-anchor="end">60,000</text><text x="89.5" y="92.1" text-anchor="end">80,000</text><text x="89.5" y="23.2" text-anchor="end">100,000</text></g>
<text x="320.1" y="408.2" font-size="23.2" text-anchor="middle">Integration time (s)</text>
<text transform="translate(28.0,190.0) rotate(-90)" font-size="22.7" text-anchor="middle">Pixel output (e<tspan font-size="15" dy="-12" dx="0.5">−</tspan><tspan dy="12" dx="0.5">)</tspan></text>
<text x="163.5" y="166.8" font-size="21.5" fill="#FF0000">Hot pixel (HP1<tspan font-size="23.6" dy="1.7">~</tspan><tspan dy="-1.7">HP10)</tspan></text>
<text x="171.5" y="281.3" font-size="21.5" fill="#FF0000">Normal pixel (NP1<tspan font-size="23.6" dy="1.7">~</tspan><tspan dy="-1.7">NP10)</tspan></text>

</svg>
</body></html>
